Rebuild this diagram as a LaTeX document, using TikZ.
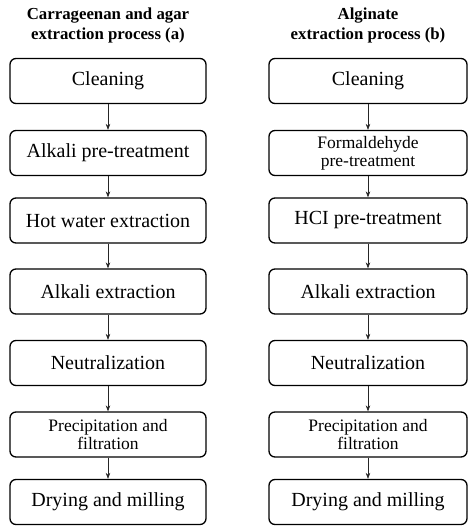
\documentclass[tikz,border=0pt]{standalone}
\usepackage{fontspec}
\setmainfont{Liberation Serif}
\usetikzlibrary{arrows.meta}
\begin{document}
\begin{tikzpicture}[x=1pt,y=-1pt,
  box/.style={draw, rounded corners=6pt, line width=1.3pt, minimum width=196pt, minimum height=45pt, align=center, inner sep=0pt, font=\fontsize{20}{22}\selectfont},
  small/.style={font=\fontsize{17.5}{18}\selectfont},
  mid/.style={font=\fontsize{17.5}{18}\selectfont},
  title/.style={align=center, font=\bfseries\fontsize{16.8}{20}\selectfont},
  arr/.style={-{Stealth[length=6pt,width=4.5pt]}, line width=0.6pt, draw=black!85}]
\useasboundingbox (0,0) rectangle (474,532);
\node[title] (ta) at (108,25) {Carrageenan and agar\\extraction process (a)};
\node[title] (tb) at (368,25) {Alginate\\extraction process (b)};
% left column
\node[box] (l1) at (108,81) {Cleaning};
\node[box] (l2) at (108,153) {Alkali pre-treatment};
\node[box] (l3) at (108,220.5) {Hot water extraction};
\node[box] (l4) at (108,291.5) {Alkali extraction};
\node[box] (l5) at (108,363) {Neutralization};
\node[box,mid] (l6) at (108,434.5) {Precipitation and\\filtration};
\node[box] (l7) at (108,502) {Drying and milling};
% right column
\node[box,minimum width=198pt] (r1) at (368,81) {Cleaning};
\node[box,minimum width=198pt,small] (r2) at (368,153) {Formaldehyde\\pre-treatment};
\node[box,minimum width=198pt] (r3) at (368,220.5) {HCI pre-treatment};
\node[box,minimum width=198pt] (r4) at (368,291.5) {Alkali extraction};
\node[box,minimum width=198pt] (r5) at (368,363) {Neutralization};
\node[box,minimum width=198pt,mid] (r6) at (368,434.5) {Precipitation and\\filtration};
\node[box,minimum width=198pt] (r7) at (368,502) {Drying and milling};
\foreach \a/\b in {l1/l2,l2/l3,l3/l4,l4/l5,l5/l6,l6/l7,r1/r2,r2/r3,r3/r4,r4/r5,r5/r6,r6/r7}
  \draw[arr] (\a) -- (\b);
\end{tikzpicture}
\end{document}
